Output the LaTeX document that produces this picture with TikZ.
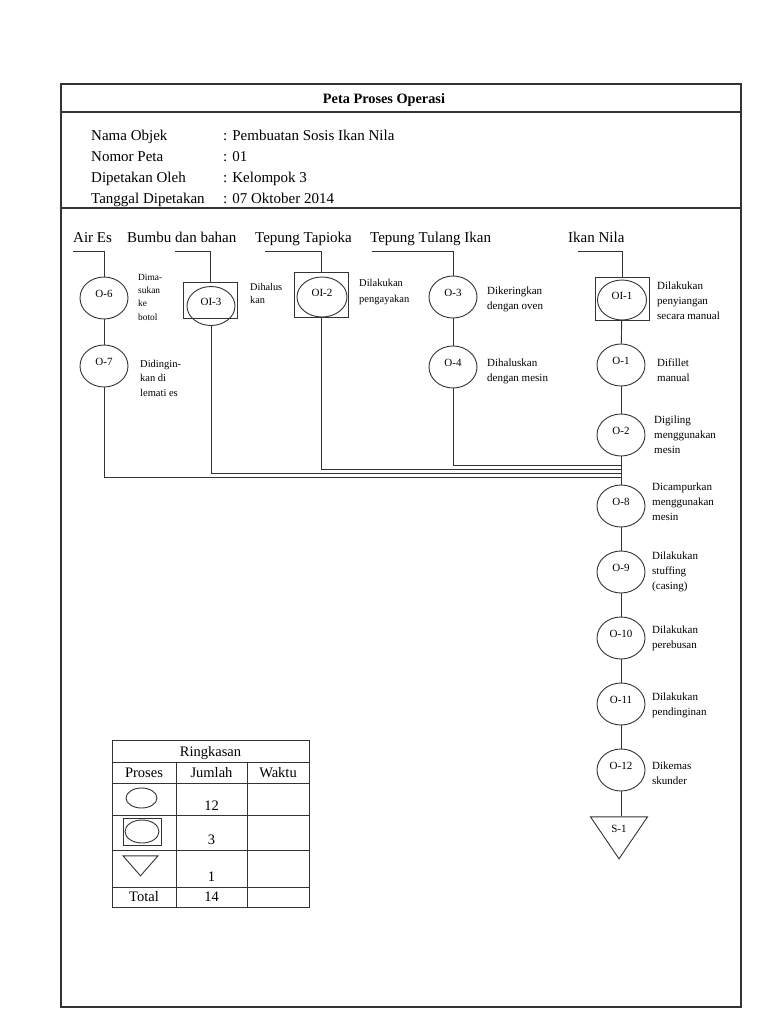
\documentclass[tikz,border=0pt]{standalone}
\usepackage{fontspec}
\setmainfont{Liberation Serif}
\usetikzlibrary{shapes.geometric, positioning, calc}

\begin{document}
\begin{tikzpicture}[
    x=1pt, y=-1pt,
    line/.style={
        draw=black!80,
        line width=0.9pt
    },
    frame/.style={
        draw=black!80,
        line width=1.1pt
    },
    op/.style={
        ellipse,
        draw=black!80,
        line width=0.9pt,
        minimum width=48pt,
        minimum height=42pt,
        inner sep=0pt,
        text depth=8.5pt,
        font=\fontsize{11}{13}\selectfont
    },
    opbox/.style={
        rectangle,
        draw=black!80,
        line width=0.9pt,
        minimum width=54pt,
        minimum height=43pt,
        inner sep=0pt
    },
    store/.style={
        isosceles triangle,
        isosceles triangle stretches,
        shape border rotate=270,
        draw=black!80,
        line width=0.9pt,
        minimum width=57pt,
        minimum height=42pt,
        inner sep=0pt,
        font=\fontsize{11}{13}\selectfont
    },
    desc/.style={
        anchor=west,
        align=left,
        inner sep=0pt,
        font=\fontsize{11}{15}\selectfont
    },
    head/.style={
        anchor=west,
        inner sep=0pt,
        text height=10pt,
        text depth=3.5pt,
        font=\fontsize{15}{18}\selectfont
    },
    cell/.style={
        inner sep=0pt,
        text height=10pt,
        text depth=3pt,
        font=\fontsize{14.5}{17}\selectfont
    }
]
\useasboundingbox (0,0) rectangle (768,1024);

% Outer frame and header
\draw[frame] (61,84) rectangle (741,1007);
\draw[frame] (61,112) -- (741,112);
\draw[frame] (61,208) -- (741,208);
\node[font=\bfseries\fontsize{14.3}{17}\selectfont] (title) at (384,100) {Peta Proses Operasi};

\foreach \k/\y/\a/\b in {1/137/Nama Objek/Pembuatan Sosis Ikan Nila,
                         2/158/Nomor Peta/01,
                         3/179/Dipetakan Oleh/Kelompok 3,
                         4/200/Tanggal Dipetakan/07 Oktober 2014} {
    \node[head] (hk\k) at (91,\y) {\a};
    \node[head] (hv\k) at (223,\y) {: \b};
}

% Material titles
\node[head] (tAir)   at (73,239)  {Air Es};
\node[head] (tBumbu) at (127,239) {Bumbu dan bahan};
\node[head] (tTapi)  at (255,239) {Tepung Tapioka};
\node[head] (tTul)   at (370,239) {Tepung Tulang Ikan};
\node[head] (tNila)  at (568,239) {Ikan Nila};

\coordinate (sAir)   at (73,251);
\coordinate (sBumbu) at (175,251);
\coordinate (sTapi)  at (265,251);
\coordinate (sTul)   at (372,251);
\coordinate (sNila)  at (578,251);

% Side branches
\node[op] (o6) at (104,298) {O-6};
\node[op] (o7) at (104,366) {O-7};
\node[opbox, minimum height=36pt] (oi3b) at (210.5,300) {};
\node[op, minimum height=39pt] (oi3) at (211,306) {OI-3};
\node[opbox, minimum height=45pt] (oi2b) at (321,294.5) {};
\node[op, minimum width=50pt, minimum height=40pt] (oi2) at (322,297) {OI-2};
\node[op] (o3) at (453,297) {O-3};
\node[op] (o4) at (453,367) {O-4};

% Main line
\node[opbox] (oi1b) at (622,298.5) {};
\node[op, minimum width=49pt, minimum height=40pt] (oi1) at (622,300) {OI-1};
\node[op] (o1) at (621,365) {O-1};
\node[op] (o2) at (621,435) {O-2};
\foreach \n/\y/\t in {o8/506/O-8, o9/572/O-9, o10/638/O-10, o11/704/O-11, o12/770/O-12} {
    \node[op] (\n) at (621,\y) {\t};
}
\node[store, anchor=apex] (s1) at (619,860) {S-1};

% Descriptions
\node[desc, font=\fontsize{9.4}{13.3}\selectfont] (d6) at (138,297) {Dima-\\sukan\\ke\\botol};
\node[desc, font=\fontsize{10.5}{14.5}\selectfont] (d7) at (140,378) {Didingin-\\kan di\\lemati es};
\node[desc, font=\fontsize{10.3}{13}\selectfont] (di3) at (250,293) {Dihalus\\kan};
\node[desc, font=\fontsize{10.5}{16}\selectfont] (di2) at (359,292) {Dilakukan\\pengayakan};
\node[desc] (d3) at (487,299) {Dikeringkan\\dengan oven};
\node[desc] (d4) at (487,371) {Dihaluskan\\dengan mesin};
\node[desc] (di1) at (657,301) {Dilakukan\\penyiangan\\secara manual};
\node[desc] (d1) at (657,370) {Difillet\\manual};
\node[desc] (d2) at (654,435) {Digiling\\menggunakan\\mesin};
\node[desc] (d8) at (652,502) {Dicampurkan\\menggunakan\\mesin};
\node[desc] (d9) at (652,572) {Dilakukan\\stuffing\\(casing)};
\node[desc] (d10) at (652,638) {Dilakukan\\perebusan};
\node[desc] (d11) at (652,705) {Dilakukan\\pendinginan};
\node[desc] (d12) at (652,773) {Dikemas\\skunder};

% Connectors
\coordinate (j1) at (621,465);
\coordinate (j2) at (621,469);
\coordinate (j3) at (621,473);
\coordinate (j4) at (621,477);

\draw[line] (sAir) -| (o6);
\draw[line] (o6) -- (o7);
\draw[line] (o7) |- (j4);
\draw[line] (sBumbu) -| (oi3b);
\draw[line] (oi3) |- (j3);
\draw[line] (sTapi) -| (oi2b);
\draw[line] (oi2b) |- (j2);
\draw[line] (sTul) -| (o3);
\draw[line] (o3) -- (o4);
\draw[line] (o4) |- (j1);
\draw[line] (sNila) -| (oi1b);
\foreach \a/\b in {oi1b/o1, o1/o2, o2/o8, o8/o9, o9/o10, o10/o11, o11/o12} {
    \draw[line] (\a) -- (\b);
}
\draw[line] (o12) -- (o12 |- s1.lower side);

% Summary table
\draw[line] (112,740) rectangle (309,907);
\foreach \y in {762, 783, 815, 850, 887} {
    \draw[line] (112,\y) -- (309,\y);
}
\draw[line] (176,762) -- (176,907);
\draw[line] (247,762) -- (247,907);

\node[cell] (ring) at (210.5,752.5) {Ringkasan};
\node[cell] (hProses) at (144,773.5) {Proses};
\node[cell] (hJumlah) at (211.5,773.5) {Jumlah};
\node[cell] (hWaktu) at (278,773.5) {Waktu};
\node[cell] (nOp) at (211.5,807) {12};
\node[cell] (nBox) at (211.5,841) {3};
\node[cell] (nSt) at (211.5,878) {1};
\node[cell] (tTotal) at (144,898) {Total};
\node[cell] (nTotal) at (211.5,898) {14};

\node[op, minimum width=31pt, minimum height=20pt] (symOp) at (141.5,798) {};
\node[opbox, minimum width=38pt, minimum height=27pt] (symBoxb) at (142,831.5) {};
\node[op, minimum width=34pt, minimum height=23pt] (symBox) at (142,831.5) {};
\node[store, anchor=apex, minimum width=35pt, minimum height=20pt] (symSt) at (140.5,877) {};
\end{tikzpicture}
\end{document}
